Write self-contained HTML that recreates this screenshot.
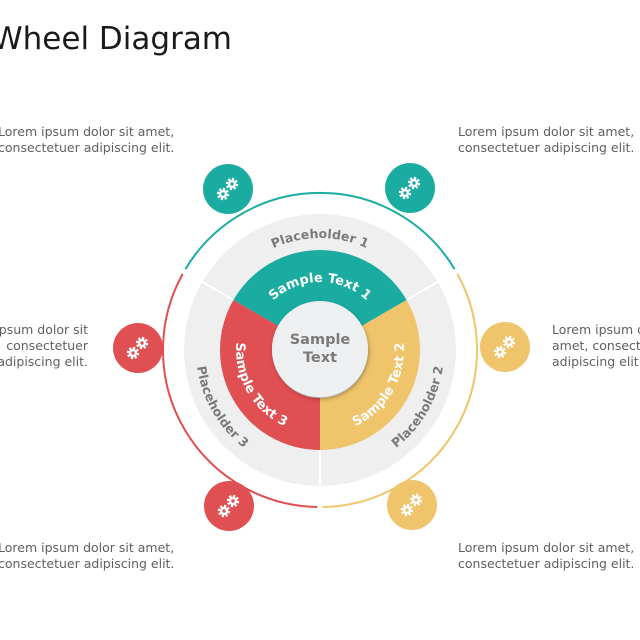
<!DOCTYPE html>
<html><head><meta charset="utf-8"><style>
html,body{margin:0;padding:0;background:#fff;}
body{width:640px;height:640px;overflow:hidden;position:relative;font-family:"DejaVu Sans","Liberation Sans",sans-serif;}
.t{position:absolute;font-size:12.5px;line-height:16px;color:#5f5f5f;white-space:nowrap;}
h1{position:absolute;left:-8px;top:21px;margin:0;font-weight:normal;font-size:31px;color:#1a1a1a;font-family:"DejaVu Sans","Liberation Sans",sans-serif;}
</style></head><body>
<h1>Wheel Diagram</h1>
<div class="t" style="left:-2px;top:124px">Lorem ipsum dolor sit amet,<br>consectetuer adipiscing elit.</div>
<div class="t" style="left:458px;top:124px">Lorem ipsum dolor sit amet,<br>consectetuer adipiscing elit.</div>
<div class="t" style="left:-2px;top:540px">Lorem ipsum dolor sit amet,<br>consectetuer adipiscing elit.</div>
<div class="t" style="left:458px;top:540px">Lorem ipsum dolor sit amet,<br>consectetuer adipiscing elit.</div>
<div class="t" style="right:552px;top:322px;text-align:right">psum dolor sit<br>consectetuer<br>adipiscing elit.</div>
<div class="t" style="left:552px;top:322px">Lorem ipsum dolor sit<br>amet, consectetuer<br>adipiscing elit.</div>
<svg width="640" height="640" style="position:absolute;left:0;top:0">
<defs>
<filter id="sh" x="-30%" y="-30%" width="160%" height="160%"><feDropShadow dx="1" dy="2" stdDeviation="2" flood-color="#000" flood-opacity="0.3"/></filter>
<path id="p1" d="M223,294 A112,112 0 0 1 417,294"/>
<path id="p3" d="M212.6,288 A124,124 0 0 0 320,474"/>
<path id="p2" d="M320,474 A124,124 0 0 0 427.4,288"/>
<path id="s1" d="M261.1,316 A68,68 0 0 1 378.9,316"/>
<path id="s3" d="M247.3,308 A84,84 0 0 0 320,434"/>
<path id="s2" d="M320,434 A84,84 0 0 0 392.7,308"/>
<g id="gear">
<circle r="4.2" fill="#fff"/><circle r="5" fill="none" stroke="#fff" stroke-width="2.4" stroke-dasharray="2.2 1.7"/><circle r="1.7" fill="currentColor"/>
</g>
</defs>
<path d="M185.4,269.1 A157,157 0 0 1 454.6,269.1" fill="none" stroke="#1aaba1" stroke-width="2"/>
<path d="M457.3,273.9 A157,157 0 0 1 322.7,507" fill="none" stroke="#efc46a" stroke-width="2"/>
<path d="M317.3,507 A157,157 0 0 1 182.7,273.9" fill="none" stroke="#e04f52" stroke-width="2"/>
<circle cx="320" cy="350" r="136" fill="#efefef"/>
<g stroke="#fff" stroke-width="2"><line x1="406.6" y1="300" x2="439" y2="281"/><line x1="233.4" y1="300" x2="201" y2="281"/><line x1="320" y1="450" x2="320" y2="488"/></g>
<path d="M233.4,300 A100,100 0 0 1 406.6,300 L361.6,326 A48,48 0 0 0 278.4,326Z" fill="#1aaba1"/>
<path d="M406.6,300 A100,100 0 0 1 320,450 L320,398 A48,48 0 0 0 361.6,326Z" fill="#efc46a"/>
<path d="M320,450 A100,100 0 0 1 233.4,300 L278.4,326 A48,48 0 0 0 320,398Z" fill="#e04f52"/>
<circle cx="320" cy="349" r="48" fill="#eeeff1" filter="url(#sh)"/>
<text font-family="DejaVu Sans" font-weight="bold" font-size="14.5" fill="#7a7a7a" text-anchor="middle"><tspan x="320" y="344">Sample</tspan><tspan x="320" y="362">Text</tspan></text>
<g font-family="DejaVu Sans" font-weight="bold" font-size="12.5" text-anchor="middle">
<text fill="#7a7a7a"><textPath href="#p1" startOffset="50%">Placeholder 1</textPath></text>
<text fill="#7a7a7a"><textPath href="#p2" startOffset="50%">Placeholder 2</textPath></text>
<text fill="#7a7a7a"><textPath href="#p3" startOffset="50%">Placeholder 3</textPath></text>
<text fill="#fff" font-size="13"><textPath href="#s1" startOffset="50%">Sample Text 1</textPath></text>
<text fill="#fff" font-size="13"><textPath href="#s2" startOffset="50%">Sample Text 2</textPath></text>
<text fill="#fff" font-size="13"><textPath href="#s3" startOffset="50%">Sample Text 3</textPath></text>
</g>
<g>
<circle cx="228" cy="189" r="25" fill="#1aaba1"/>
<circle cx="410" cy="188" r="25" fill="#1aaba1"/>
<circle cx="138" cy="348" r="25" fill="#e04f52"/>
<circle cx="229" cy="506" r="25" fill="#e04f52"/>
<circle cx="505" cy="347" r="25" fill="#efc46a"/>
<circle cx="412" cy="505" r="25" fill="#efc46a"/>
</g>
<g style="color:#1aaba1"><use href="#gear" x="223" y="194"/><use href="#gear" x="232" y="184"/></g>
<g style="color:#1aaba1"><use href="#gear" x="405" y="193"/><use href="#gear" x="414" y="183"/></g>
<g style="color:#e04f52"><use href="#gear" x="133" y="353"/><use href="#gear" x="142" y="343"/></g>
<g style="color:#e04f52"><use href="#gear" x="224" y="511"/><use href="#gear" x="233" y="501"/></g>
<g style="color:#efc46a"><use href="#gear" x="500" y="352"/><use href="#gear" x="509" y="342"/></g>
<g style="color:#efc46a"><use href="#gear" x="407" y="510"/><use href="#gear" x="416" y="500"/></g>
</svg>
</body></html>
